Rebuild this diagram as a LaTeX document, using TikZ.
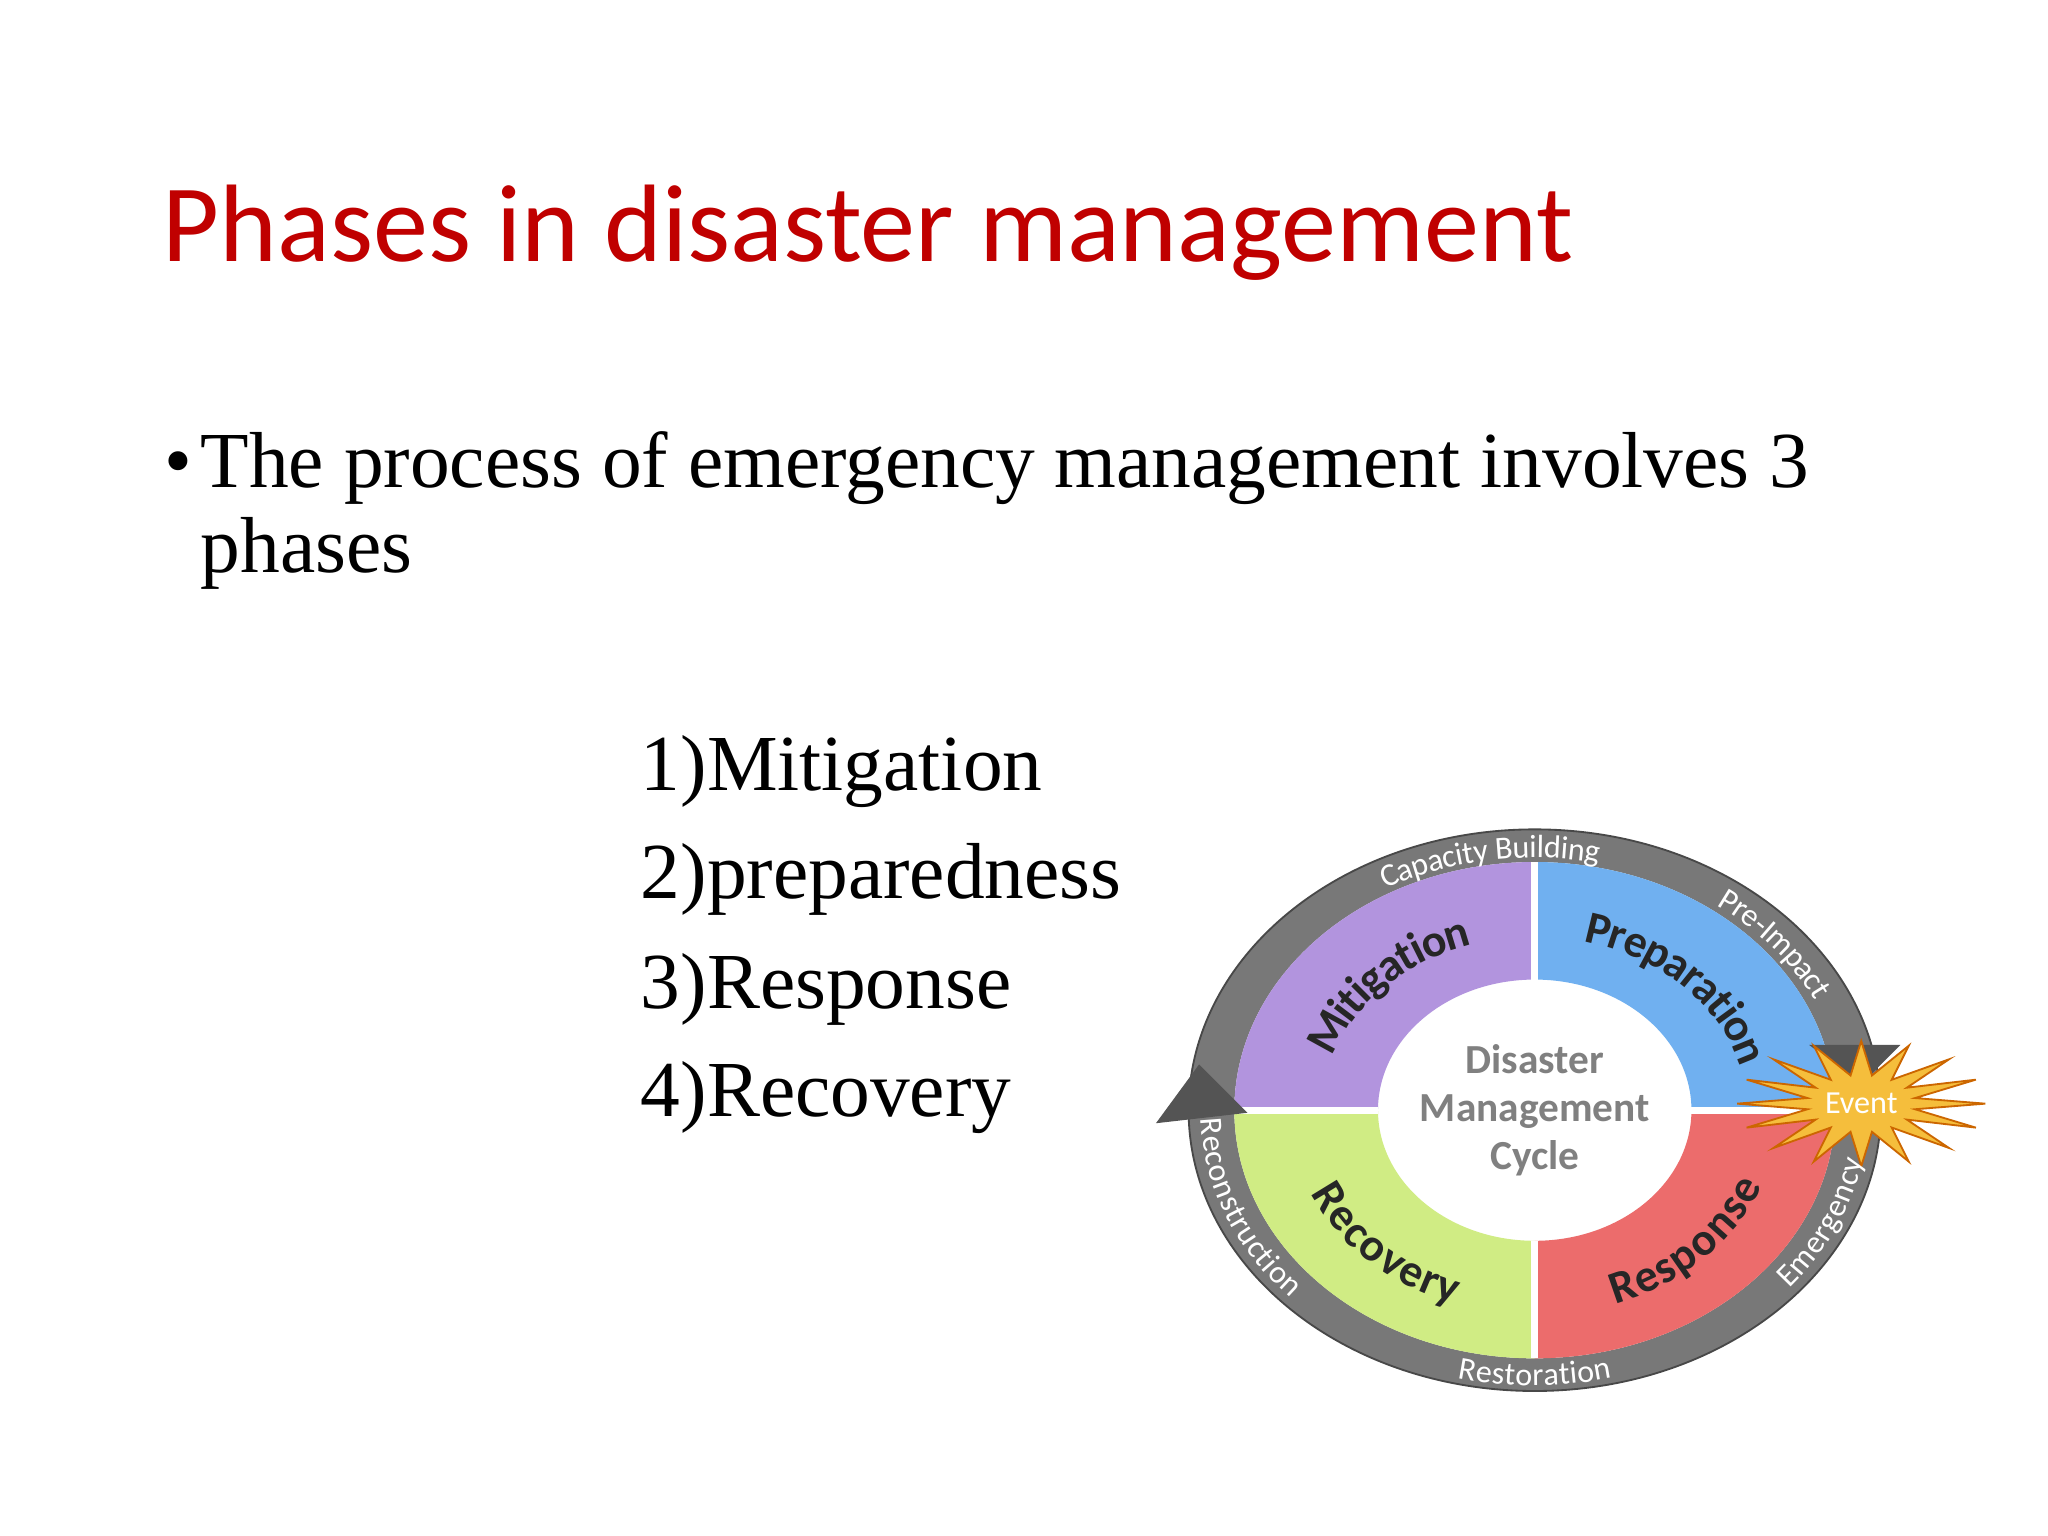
\documentclass[tikz,border=0pt]{standalone}
\usepackage{fontspec}
\setmainfont{Liberation Serif}
\setsansfont{Carlito}
\usetikzlibrary{calc,decorations.text}
\definecolor{titlered}{RGB}{192,0,0}
\definecolor{mitig}{RGB}{178,148,222}
\definecolor{prep}{RGB}{112,176,240}
\definecolor{resp}{RGB}{236,108,108}
\definecolor{recov}{RGB}{208,236,132}
\definecolor{ring}{RGB}{120,120,120}
\definecolor{star}{RGB}{245,190,60}
\begin{document}
\begin{tikzpicture}[
    ringlabel/.style={decorate,decoration={text along path,text align=center,raise=-2.5pt,
      text={|\sffamily\fontsize{7}{7}\selectfont\color{white}|#1}}},
    phaselabel/.style={decorate,decoration={text along path,text align=center,raise=-3.5pt,
      text={|\sffamily\bfseries\fontsize{10}{10}\selectfont\color{black!85}|#1}}},
    listitem/.style={anchor=base west,font=\fontsize{17.3}{17.3}\selectfont}]
\useasboundingbox[fill=white] (0,0) rectangle (15.68,11.76);

\node[anchor=base west,text=titlered,font=\sffamily\fontsize{24}{24}\selectfont,inner sep=0]
  (title) at (1.24,9.76) {Phases in disaster management};
\node[anchor=base west,font=\fontsize{17.3}{17.3}\selectfont,inner sep=0] (bullet) at (1.25,8.03) {\textbullet};
\node[anchor=base west,font=\fontsize{17.3}{17.3}\selectfont,inner sep=0] (line1) at (1.53,8.03)
  {The process of emergency management involves 3};
\node[anchor=base west,font=\fontsize{17.3}{17.3}\selectfont,inner sep=0] (line2) at (1.53,7.38) {phases};

\node[listitem,inner sep=0] (mit) at (4.9,5.71) {1)Mitigation};
\node[listitem,inner sep=0] (pre) at (4.9,4.88) {2)preparedness};
\node[listitem,inner sep=0] (res) at (4.9,4.04) {3)Response};
\node[listitem,inner sep=0] (rec) at (4.9,3.21) {4)Recovery};

% the cycle
\coordinate (C) at (11.75,3.26);
\fill[ring,even odd rule] (C) ellipse[x radius=2.65,y radius=2.15] (C) ellipse[x radius=2.3,y radius=1.9];
\draw[ring!60!black,thin] (C) ellipse[x radius=2.65,y radius=2.15];
\foreach \a/\col in {90/mitig,0/prep,270/resp,180/recov}{
  \fill[\col] ($(C)+(\a:2.3 and 1.9)$) arc[start angle=\a,delta angle=90,x radius=2.3,y radius=1.9]
    -- ($(C)+(\a+90:1.2 and 1.0)$) arc[start angle=\a+90,delta angle=-90,x radius=1.2,y radius=1.0] -- cycle;
}
\draw[white,line width=1.5pt] ($(C)+(0,1.0)$) -- ($(C)+(0,1.9)$) ($(C)+(0,-1.0)$) -- ($(C)+(0,-1.9)$)
  ($(C)+(1.2,0)$) -- ($(C)+(2.3,0)$) ($(C)+(-1.2,0)$) -- ($(C)+(-2.3,0)$);

% arrow heads
\fill[ring!70!black] (8.85,3.16) -- (9.18,3.61) -- (9.55,3.24) -- cycle;
\fill[ring!70!black] (13.85,3.76) -- (14.25,3.46) -- (14.55,3.76) -- cycle;

% event star
\fill[star,draw=orange!80!black,thin] plot[samples=33,domain=0:32,variable=\i]
  ({14.25+(mod(\i,2)==0 ? 0.95 : 0.42)*cos(\i*360/32)},{3.31+(mod(\i,2)==0 ? 0.48 : 0.22)*sin(\i*360/32)});
\node[text=white,font=\sffamily\fontsize{7}{7}\selectfont] (event) at (14.25,3.31) {Event};

% labels on the grey ring
\path[ringlabel=Capacity Building] ($(C)+(125:2.47 and 2.02)$) arc[start angle=125,end angle=72,x radius=2.47,y radius=2.02];
\path[ringlabel=Pre-Impact] ($(C)+(58:2.47 and 2.02)$) arc[start angle=58,end angle=22,x radius=2.47,y radius=2.02];
\path[ringlabel=Emergency] ($(C)+(-45:2.47 and 2.02)$) arc[start angle=-45,end angle=-5,x radius=2.47,y radius=2.02];
\path[ringlabel=Restoration] ($(C)+(-110:2.47 and 2.02)$) arc[start angle=-110,end angle=-70,x radius=2.47,y radius=2.02];
\path[ringlabel=Reconstruction] ($(C)+(176:2.47 and 2.02)$) arc[start angle=176,end angle=228,x radius=2.47,y radius=2.02];

% phase labels
\path[phaselabel=Mitigation] ($(C)+(172:1.75 and 1.45)$) arc[start angle=172,end angle=98,x radius=1.75,y radius=1.45];
\path[phaselabel=Preparation] ($(C)+(86:1.75 and 1.45)$) arc[start angle=86,end angle=4,x radius=1.75,y radius=1.45];
\path[phaselabel=Response] ($(C)+(-80:1.75 and 1.45)$) arc[start angle=-80,end angle=-10,x radius=1.75,y radius=1.45];
\path[phaselabel=Recovery] ($(C)+(190:1.75 and 1.45)$) arc[start angle=190,end angle=262,x radius=1.75,y radius=1.45];

\node[align=center,text=black!50,font=\sffamily\bfseries\fontsize{9}{10.5}\selectfont] (cycle) at (C)
  {Disaster\\Management\\Cycle};
\end{tikzpicture}
\end{document}
